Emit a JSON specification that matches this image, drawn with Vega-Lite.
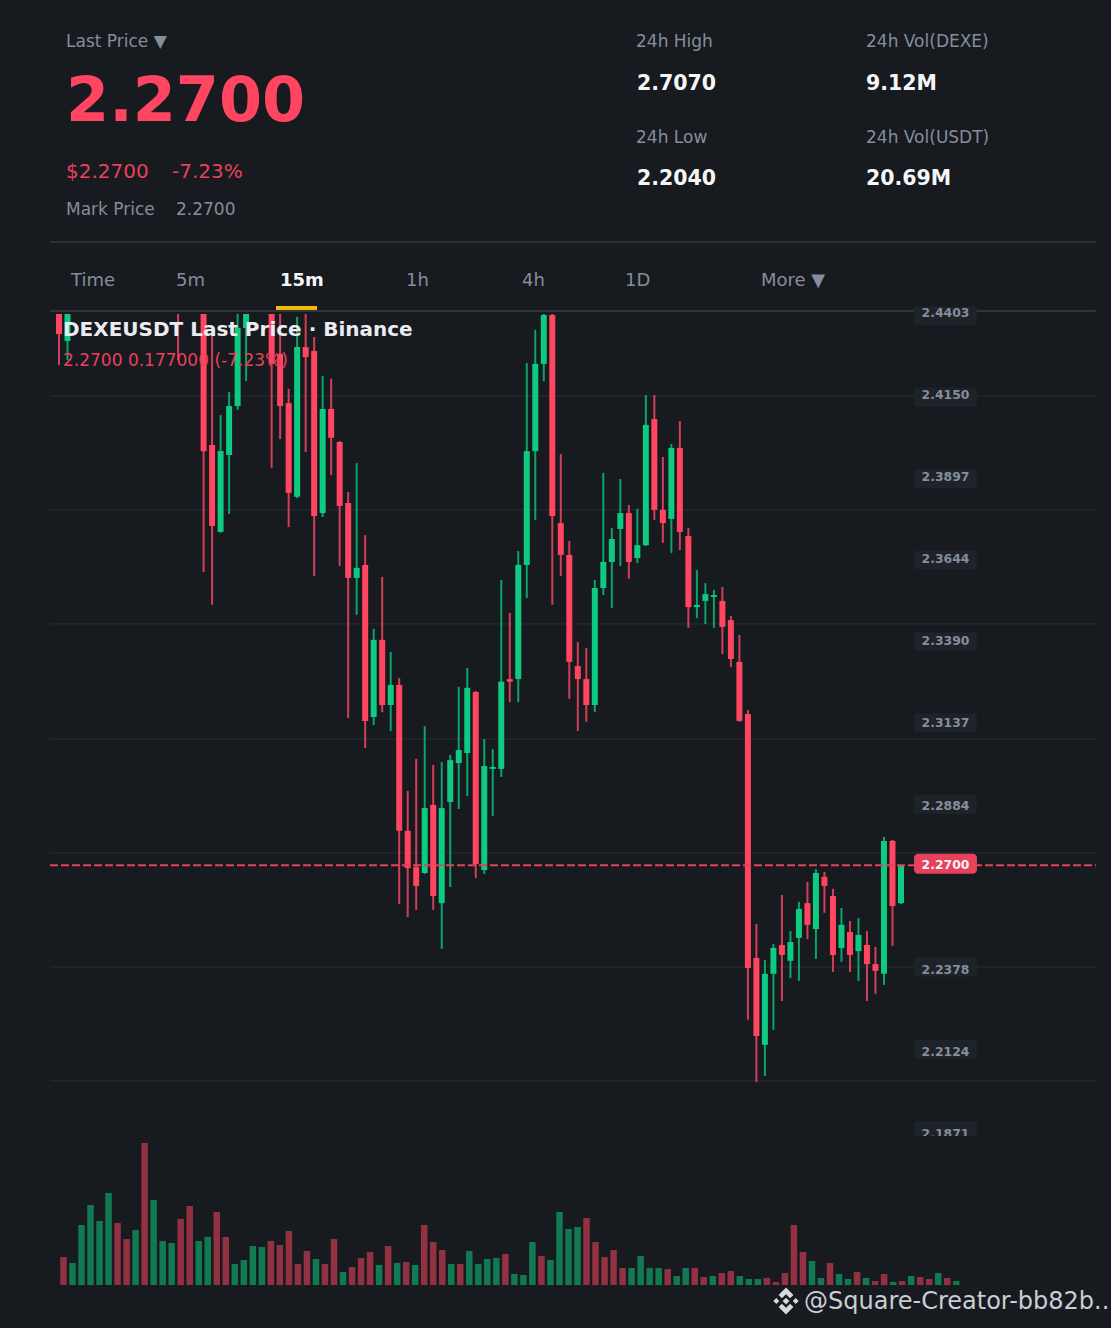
{
"$schema":"https://vega.github.io/schema/vega-lite/v6.json",
"autosize":"none","padding":0,"width":1111,"height":1328,"background":"#171a1f",
"config":{"view":{"stroke":null},"text":{"font":"DejaVu Sans"},"axis":{"labelFont":"DejaVu Sans"}},
"data":{"values":[{"part":"chrome"}]},
"datasets":{
"k":[
{"t":"2025-08-29T00:30","o":2.44,"h":2.44,"l":2.4243,"c":2.4338,"v":84000,"s":"d"},
{"t":"2025-08-29T00:45","o":2.4317,"h":2.44,"l":2.4258,"c":2.44,"v":66000,"s":"u"},
{"t":"2025-08-29T01:00","v":180000,"s":"u"},
{"t":"2025-08-29T01:15","v":240000,"s":"u"},
{"t":"2025-08-29T01:30","v":192000,"s":"u"},
{"t":"2025-08-29T01:45","v":276000,"s":"u"},
{"t":"2025-08-29T02:00","v":186000,"s":"d"},
{"t":"2025-08-29T02:15","v":138000,"s":"d"},
{"t":"2025-08-29T02:30","v":165000,"s":"u"},
{"t":"2025-08-29T02:45","v":426000,"s":"d"},
{"t":"2025-08-29T03:00","v":255000,"s":"u"},
{"t":"2025-08-29T03:15","v":132000,"s":"u"},
{"t":"2025-08-29T03:30","v":126000,"s":"u"},
{"t":"2025-08-29T03:45","v":198000,"s":"d"},
{"t":"2025-08-29T04:00","h":2.44,"l":2.4258,"v":237000,"s":"d"},
{"t":"2025-08-29T04:15","v":132000,"s":"u"},
{"t":"2025-08-29T04:30","v":144000,"s":"u"},
{"t":"2025-08-29T04:45","o":2.44,"h":2.44,"l":2.3604,"c":2.3977,"v":219000,"s":"d"},
{"t":"2025-08-29T05:00","o":2.3996,"h":2.4335,"l":2.3503,"c":2.3746,"v":144000,"s":"d"},
{"t":"2025-08-29T05:15","o":2.3728,"h":2.4088,"l":2.3725,"c":2.3977,"v":63000,"s":"u"},
{"t":"2025-08-29T05:30","o":2.3965,"h":2.4159,"l":2.3783,"c":2.4116,"v":75000,"s":"u"},
{"t":"2025-08-29T05:45","o":2.4116,"h":2.44,"l":2.4104,"c":2.4357,"v":117000,"s":"u"},
{"t":"2025-08-29T06:00","o":2.4357,"h":2.44,"l":2.4193,"c":2.44,"v":114000,"s":"u"},
{"t":"2025-08-29T06:15","v":132000,"s":"d"},
{"t":"2025-08-29T06:30","v":120000,"s":"d"},
{"t":"2025-08-29T06:45","o":2.44,"h":2.44,"l":2.3925,"c":2.4246,"v":162000,"s":"d"},
{"t":"2025-08-29T07:00","o":2.4277,"h":2.44,"l":2.4014,"c":2.4116,"v":63000,"s":"d"},
{"t":"2025-08-29T07:15","o":2.4125,"h":2.4169,"l":2.3743,"c":2.3848,"v":102000,"s":"d"},
{"t":"2025-08-29T07:30","o":2.3836,"h":2.4391,"l":2.3832,"c":2.4298,"v":78000,"s":"u"},
{"t":"2025-08-29T07:45","o":2.4298,"h":2.44,"l":2.3974,"c":2.4267,"v":63000,"s":"d"},
{"t":"2025-08-29T08:00","o":2.4286,"h":2.4329,"l":2.3592,"c":2.3777,"v":138000,"s":"d"},
{"t":"2025-08-29T08:15","o":2.3786,"h":2.4209,"l":2.3774,"c":2.4107,"v":39000,"s":"u"},
{"t":"2025-08-29T08:30","o":2.4107,"h":2.42,"l":2.3903,"c":2.4018,"v":54000,"s":"d"},
{"t":"2025-08-29T08:45","o":2.4005,"h":2.4008,"l":2.3623,"c":2.3808,"v":81000,"s":"d"},
{"t":"2025-08-29T09:00","o":2.3817,"h":2.3851,"l":2.3154,"c":2.3586,"v":99000,"s":"d"},
{"t":"2025-08-29T09:15","o":2.3586,"h":2.394,"l":2.3472,"c":2.3617,"v":60000,"s":"u"},
{"t":"2025-08-29T09:30","o":2.3626,"h":2.3718,"l":2.3061,"c":2.3145,"v":117000,"s":"d"},
{"t":"2025-08-29T09:45","o":2.3157,"h":2.3429,"l":2.3132,"c":2.3395,"v":66000,"s":"u"},
{"t":"2025-08-29T10:00","o":2.3395,"h":2.3589,"l":2.3172,"c":2.3194,"v":69000,"s":"d"},
{"t":"2025-08-29T10:15","o":2.3194,"h":2.3358,"l":2.3114,"c":2.3256,"v":60000,"s":"u"},
{"t":"2025-08-29T10:30","o":2.3256,"h":2.3277,"l":2.258,"c":2.2806,"v":180000,"s":"d"},
{"t":"2025-08-29T10:45","o":2.2806,"h":2.2929,"l":2.254,"c":2.2691,"v":129000,"s":"d"},
{"t":"2025-08-29T11:00","o":2.2694,"h":2.3028,"l":2.2562,"c":2.2636,"v":105000,"s":"d"},
{"t":"2025-08-29T11:15","o":2.2676,"h":2.3129,"l":2.2673,"c":2.2876,"v":63000,"s":"u"},
{"t":"2025-08-29T11:30","o":2.2886,"h":2.3009,"l":2.2562,"c":2.2605,"v":63000,"s":"d"},
{"t":"2025-08-29T11:45","o":2.2583,"h":2.3018,"l":2.2442,"c":2.2876,"v":102000,"s":"u"},
{"t":"2025-08-29T12:00","o":2.2895,"h":2.304,"l":2.2633,"c":2.3024,"v":63000,"s":"u"},
{"t":"2025-08-29T12:15","o":2.3015,"h":2.325,"l":2.2873,"c":2.3055,"v":78000,"s":"u"},
{"t":"2025-08-29T12:30","o":2.3046,"h":2.3308,"l":2.2913,"c":2.3247,"v":81000,"s":"u"},
{"t":"2025-08-29T12:45","o":2.3234,"h":2.3237,"l":2.266,"c":2.2704,"v":93000,"s":"d"},
{"t":"2025-08-29T13:00","o":2.2685,"h":2.3089,"l":2.2673,"c":2.3006,"v":33000,"s":"u"},
{"t":"2025-08-29T13:15","o":2.2997,"h":2.3058,"l":2.2852,"c":2.3003,"v":30000,"s":"u"},
{"t":"2025-08-29T13:30","o":2.2997,"h":2.358,"l":2.2972,"c":2.3266,"v":129000,"s":"u"},
{"t":"2025-08-29T13:45","o":2.3274,"h":2.3478,"l":2.3203,"c":2.3266,"v":87000,"s":"d"},
{"t":"2025-08-29T14:00","o":2.3274,"h":2.3669,"l":2.3203,"c":2.3626,"v":75000,"s":"u"},
{"t":"2025-08-29T14:15","o":2.3626,"h":2.4249,"l":2.3524,"c":2.3977,"v":219000,"s":"u"},
{"t":"2025-08-29T14:30","o":2.3977,"h":2.4351,"l":2.3765,"c":2.4246,"v":168000,"s":"u"},
{"t":"2025-08-29T14:45","o":2.4246,"h":2.44,"l":2.4193,"c":2.4397,"v":174000,"s":"u"},
{"t":"2025-08-29T15:00","o":2.4397,"h":2.44,"l":2.3503,"c":2.3777,"v":201000,"s":"d"},
{"t":"2025-08-29T15:15","o":2.3755,"h":2.3968,"l":2.3592,"c":2.3657,"v":129000,"s":"d"},
{"t":"2025-08-29T15:30","o":2.3657,"h":2.37,"l":2.3213,"c":2.3327,"v":84000,"s":"d"},
{"t":"2025-08-29T15:45","o":2.3314,"h":2.3388,"l":2.3114,"c":2.3274,"v":105000,"s":"d"},
{"t":"2025-08-29T16:00","o":2.3274,"h":2.337,"l":2.3142,"c":2.3194,"v":51000,"s":"d"},
{"t":"2025-08-29T16:15","o":2.3194,"h":2.358,"l":2.3172,"c":2.3555,"v":51000,"s":"u"},
{"t":"2025-08-29T16:30","o":2.3555,"h":2.391,"l":2.3533,"c":2.3635,"v":87000,"s":"u"},
{"t":"2025-08-29T16:45","o":2.3635,"h":2.374,"l":2.3493,"c":2.3706,"v":51000,"s":"u"},
{"t":"2025-08-29T17:00","o":2.3737,"h":2.3891,"l":2.3623,"c":2.3786,"v":51000,"s":"u"},
{"t":"2025-08-29T17:15","o":2.3786,"h":2.3811,"l":2.3583,"c":2.3635,"v":48000,"s":"d"},
{"t":"2025-08-29T17:30","o":2.3647,"h":2.3799,"l":2.3632,"c":2.3687,"v":27000,"s":"u"},
{"t":"2025-08-29T17:45","o":2.3687,"h":2.415,"l":2.3684,"c":2.4058,"v":51000,"s":"u"},
{"t":"2025-08-29T18:00","o":2.4076,"h":2.415,"l":2.3765,"c":2.3796,"v":51000,"s":"d"},
{"t":"2025-08-29T18:15","o":2.3796,"h":2.3959,"l":2.3694,"c":2.3755,"v":24000,"s":"d"},
{"t":"2025-08-29T18:30","o":2.3768,"h":2.3999,"l":2.3663,"c":2.3987,"v":27000,"s":"u"},
{"t":"2025-08-29T18:45","o":2.3987,"h":2.407,"l":2.3672,"c":2.3728,"v":36000,"s":"d"},
{"t":"2025-08-29T19:00","o":2.3715,"h":2.374,"l":2.3432,"c":2.3496,"v":42000,"s":"d"},
{"t":"2025-08-29T19:15","o":2.3496,"h":2.361,"l":2.3462,"c":2.3503,"v":27000,"s":"u"},
{"t":"2025-08-29T19:30","o":2.3515,"h":2.357,"l":2.3444,"c":2.3536,"v":18000,"s":"u"},
{"t":"2025-08-29T19:45","o":2.3527,"h":2.3549,"l":2.3432,"c":2.3533,"v":18000,"s":"u"},
{"t":"2025-08-29T20:00","o":2.3515,"h":2.3558,"l":2.3351,"c":2.3435,"v":21000,"s":"d"},
{"t":"2025-08-29T20:15","o":2.3456,"h":2.3469,"l":2.3311,"c":2.3336,"v":9000,"s":"d"},
{"t":"2025-08-29T20:30","o":2.3327,"h":2.341,"l":2.3142,"c":2.3145,"v":36000,"s":"d"},
{"t":"2025-08-29T20:45","o":2.3166,"h":2.3179,"l":2.2223,"c":2.2383,"v":180000,"s":"d"},
{"t":"2025-08-29T21:00","o":2.2414,"h":2.2519,"l":2.2031,"c":2.2173,"v":99000,"s":"d"},
{"t":"2025-08-29T21:15","o":2.2146,"h":2.2408,"l":2.205,"c":2.2365,"v":72000,"s":"u"},
{"t":"2025-08-29T21:30","o":2.2365,"h":2.2457,"l":2.2192,"c":2.2445,"v":21000,"s":"u"},
{"t":"2025-08-29T21:45","o":2.2454,"h":2.2608,"l":2.2281,"c":2.2423,"v":66000,"s":"d"},
{"t":"2025-08-29T22:00","o":2.2405,"h":2.2497,"l":2.2352,"c":2.2463,"v":33000,"s":"u"},
{"t":"2025-08-29T22:15","o":2.2476,"h":2.2587,"l":2.2343,"c":2.2565,"v":18000,"s":"u"},
{"t":"2025-08-29T22:30","o":2.2583,"h":2.2648,"l":2.2472,"c":2.2516,"v":39000,"s":"d"},
{"t":"2025-08-29T22:45","o":2.2503,"h":2.2688,"l":2.2411,"c":2.2676,"v":21000,"s":"u"},
{"t":"2025-08-29T23:00","o":2.2664,"h":2.2679,"l":2.2553,"c":2.2636,"v":12000,"s":"d"},
{"t":"2025-08-29T23:15","o":2.2605,"h":2.2627,"l":2.2371,"c":2.2423,"v":33000,"s":"d"},
{"t":"2025-08-29T23:30","o":2.2445,"h":2.2568,"l":2.2402,"c":2.2516,"v":9000,"s":"u"},
{"t":"2025-08-29T23:45","o":2.2494,"h":2.2528,"l":2.2371,"c":2.2423,"v":12000,"s":"d"},
{"t":"2025-08-30T00:00","o":2.2435,"h":2.2537,"l":2.2343,"c":2.2485,"v":27000,"s":"u"},
{"t":"2025-08-30T00:15","o":2.2454,"h":2.2497,"l":2.2281,"c":2.2395,"v":24000,"s":"d"},
{"t":"2025-08-30T00:30","o":2.2395,"h":2.2448,"l":2.2303,"c":2.2374,"v":18000,"s":"d"},
{"t":"2025-08-30T00:45","o":2.2365,"h":2.2787,"l":2.2331,"c":2.2775,"v":36000,"s":"u"},
{"t":"2025-08-30T01:00","o":2.2775,"h":2.2778,"l":2.2451,"c":2.2574,"v":21000,"s":"d"},
{"t":"2025-08-30T01:15","o":2.2583,"h":2.27,"l":2.258,"c":2.27,"v":12000,"s":"u"}
],
"grid":[{"p":2.4147},{"p":2.3796},{"p":2.3444},{"p":2.3089},{"p":2.2738},{"p":2.2386},{"p":2.2035}],
"ticks":[{"p":2.4403,"txt":"2.4403"},{"p":2.415,"txt":"2.4150"},{"p":2.3897,"txt":"2.3897"},{"p":2.3644,"txt":"2.3644"},{"p":2.339,"txt":"2.3390"},{"p":2.3137,"txt":"2.3137"},{"p":2.2884,"txt":"2.2884"},{"p":2.2378,"txt":"2.2378"},{"p":2.2124,"txt":"2.2124"},{"p":2.1871,"txt":"2.1871"}]
},
"layer":[
{"data":{"name":"grid"},"mark":{"type":"rule","color":"#2a2f36","strokeWidth":1},
 "encoding":{"y":{"field":"p","type":"quantitative","axis":null,"scale":{"domain":[2.12727,2.53683],"range":[1328,0]}},
 "x":{"datum":{"year":2025,"month":8,"date":29,"hours":0,"minutes":14,"seconds":8},"type":"temporal","axis":null,"scale":{"domain":["2025-08-28T22:45:56","2025-08-30T07:25:24"],"range":[0,1111]}},
 "x2":{"datum":{"year":2025,"month":8,"date":30,"hours":6,"minutes":58,"seconds":54}}}},
{"data":{"values":[{"p":2.4409}]},"mark":{"type":"rule","color":"#2e343c","strokeWidth":2},
 "encoding":{"y":{"field":"p","type":"quantitative","axis":null,"scale":{"domain":[2.12727,2.53683],"range":[1328,0]}},
 "x":{"datum":{"year":2025,"month":8,"date":29,"hours":0,"minutes":14,"seconds":8},"type":"temporal","axis":null,"scale":{"domain":["2025-08-28T22:45:56","2025-08-30T07:25:24"],"range":[0,1111]}},
 "x2":{"datum":{"year":2025,"month":8,"date":30,"hours":6,"minutes":58,"seconds":54}}}},
{"data":{"name":"k"},"mark":{"type":"rule","strokeWidth":2},
 "encoding":{"x":{"field":"t","type":"temporal","axis":null,"scale":{"domain":["2025-08-28T22:45:56","2025-08-30T07:25:24"],"range":[0,1111]}},
 "y":{"field":"h","type":"quantitative","axis":null,"scale":{"domain":[2.12727,2.53683],"range":[1328,0]}},"y2":{"field":"l"},
 "color":{"field":"s","type":"nominal","legend":null,"scale":{"domain":["u","d"],"range":["#0ca469","#d33f58"]}}}},
{"data":{"name":"k"},"mark":{"type":"rule","strokeWidth":6},
 "encoding":{"x":{"field":"t","type":"temporal","axis":null,"scale":{"domain":["2025-08-28T22:45:56","2025-08-30T07:25:24"],"range":[0,1111]}},
 "y":{"field":"o","type":"quantitative","axis":null,"scale":{"domain":[2.12727,2.53683],"range":[1328,0]}},"y2":{"field":"c"},
 "color":{"field":"s","type":"nominal","legend":null,"scale":{"domain":["u","d"],"range":["#0ecb81","#ff4560"]}}}},
{"data":{"name":"ticks"},"mark":{"type":"bar","orient":"horizontal","size":19,"color":"#1e2329","cornerRadius":3},
 "encoding":{"y":{"field":"p","type":"quantitative","axis":null,"scale":{"domain":[2.12727,2.53683],"range":[1328,0]}},
 "x":{"datum":{"year":2025,"month":8,"date":30,"hours":1,"minutes":38},"type":"temporal","axis":null,"scale":{"domain":["2025-08-28T22:45:56","2025-08-30T07:25:24"],"range":[0,1111]}},
 "x2":{"datum":{"year":2025,"month":8,"date":30,"hours":3,"minutes":29}}}},
{"data":{"name":"ticks"},"mark":{"type":"text","font":"DejaVu Sans","fontWeight":"bold","fontSize":12.4,"color":"#848e9c","align":"center","baseline":"middle"},
 "encoding":{"y":{"field":"p","type":"quantitative","axis":null,"scale":{"domain":[2.12727,2.53683],"range":[1328,0]}},
 "x":{"datum":{"year":2025,"month":8,"date":30,"hours":2,"minutes":33,"seconds":30},"type":"temporal","axis":null,"scale":{"domain":["2025-08-28T22:45:56","2025-08-30T07:25:24"],"range":[0,1111]}},
 "text":{"field":"txt"}}},
{"data":{"values":[{"p":2.27}]},"mark":{"type":"rule","color":"#e0435c","strokeWidth":2,"strokeDash":[8,3]},
 "encoding":{"y":{"field":"p","type":"quantitative","axis":null,"scale":{"domain":[2.12727,2.53683],"range":[1328,0]}},
 "x":{"datum":{"year":2025,"month":8,"date":29,"hours":0,"minutes":14,"seconds":8},"type":"temporal","axis":null,"scale":{"domain":["2025-08-28T22:45:56","2025-08-30T07:25:24"],"range":[0,1111]}},
 "x2":{"datum":{"year":2025,"month":8,"date":30,"hours":6,"minutes":58,"seconds":54}}}},
{"data":{"values":[{"p":2.27}]},"mark":{"type":"bar","orient":"horizontal","size":20,"color":"#e8415c","cornerRadius":4},
 "encoding":{"y":{"field":"p","type":"quantitative","axis":null,"scale":{"domain":[2.12727,2.53683],"range":[1328,0]}},
 "x":{"datum":{"year":2025,"month":8,"date":30,"hours":1,"minutes":38},"type":"temporal","axis":null,"scale":{"domain":["2025-08-28T22:45:56","2025-08-30T07:25:24"],"range":[0,1111]}},
 "x2":{"datum":{"year":2025,"month":8,"date":30,"hours":3,"minutes":29}}}},
{"data":{"values":[{"p":2.27,"txt":"2.2700"}]},"mark":{"type":"text","font":"DejaVu Sans","fontWeight":"bold","fontSize":12.4,"color":"#f5f6f7","align":"center","baseline":"middle"},
 "encoding":{"y":{"field":"p","type":"quantitative","axis":null,"scale":{"domain":[2.12727,2.53683],"range":[1328,0]}},
 "x":{"datum":{"year":2025,"month":8,"date":30,"hours":2,"minutes":33,"seconds":30},"type":"temporal","axis":null,"scale":{"domain":["2025-08-28T22:45:56","2025-08-30T07:25:24"],"range":[0,1111]}},
 "text":{"field":"txt"}}},
{"mark":{"type":"rect","color":"#171a1f","x":0,"x2":1111,"y":1136,"y2":1328}},
{"data":{"name":"k"},"mark":{"type":"bar","size":6.5},
 "encoding":{"x":{"field":"t","type":"temporal","scale":{"domain":["2025-08-28T22:52:45","2025-08-30T05:24:04"],"range":[0,1111]},
  "axis":{"values":[{"year":2025,"month":8,"date":29,"hours":0,"minutes":30},{"year":2025,"month":8,"date":29,"hours":5,"minutes":30},{"year":2025,"month":8,"date":29,"hours":10,"minutes":30},{"year":2025,"month":8,"date":29,"hours":15,"minutes":30},{"year":2025,"month":8,"date":29,"hours":20,"minutes":30}],"format":"%b %d, %H:%M","title":null,"grid":false,"domain":false,"offset":-43,"tickSize":7,"tickWidth":2,"tickColor":"#5e6673","labelColor":"#6f7783","labelFontSize":12,"labelPadding":6,"labelFlush":false,"labelOverlap":false,"orient":"bottom"}},
 "y":{"field":"v","type":"quantitative","stack":null,"axis":null,"scale":{"domain":[-129000,3855000],"range":[1328,0]}},
 "color":{"field":"s","type":"nominal","legend":null,"scale":{"domain":["u","d"],"range":["#117a53","#913142"]}}}},
{"mark":{"type":"text","text":"DEXEUSDT Last Price · Binance","x":63,"y":330,"fontSize":20,"fontWeight":"bold","color":"#eaecef","align":"left","baseline":"middle"}},
{"mark":{"type":"text","text":"2.2700  0.177000 (-7.23%)","x":63,"y":361,"fontSize":17,"color":"#e8415c","align":"left","baseline":"middle"}},
{"mark":{"type":"text","text":"Last Price  ▼","x":66,"y":42,"fontSize":17,"color":"#848e9c","align":"left","baseline":"middle"}},
{"mark":{"type":"text","text":"2.2700","x":66,"y":102,"fontSize":62,"fontWeight":"bold","color":"#ff4560","align":"left","baseline":"middle"}},
{"mark":{"type":"text","text":"$2.2700","x":66,"y":172,"fontSize":20,"color":"#e8415c","align":"left","baseline":"middle"}},
{"mark":{"type":"text","text":"-7.23%","x":172,"y":172,"fontSize":20,"color":"#e8415c","align":"left","baseline":"middle"}},
{"mark":{"type":"text","text":"Mark Price","x":66,"y":210,"fontSize":17,"color":"#848e9c","align":"left","baseline":"middle"}},
{"mark":{"type":"text","text":"2.2700","x":176,"y":210,"fontSize":17,"color":"#848e9c","align":"left","baseline":"middle"}},
{"mark":{"type":"text","text":"24h High","x":636,"y":42,"fontSize":17,"color":"#848e9c","align":"left","baseline":"middle"}},
{"mark":{"type":"text","text":"2.7070","x":637,"y":84,"fontSize":20.5,"fontWeight":"bold","color":"#f5f6f7","align":"left","baseline":"middle"}},
{"mark":{"type":"text","text":"24h Low","x":636,"y":138,"fontSize":17,"color":"#848e9c","align":"left","baseline":"middle"}},
{"mark":{"type":"text","text":"2.2040","x":637,"y":179,"fontSize":20.5,"fontWeight":"bold","color":"#f5f6f7","align":"left","baseline":"middle"}},
{"mark":{"type":"text","text":"24h Vol(DEXE)","x":866,"y":42,"fontSize":17,"color":"#848e9c","align":"left","baseline":"middle"}},
{"mark":{"type":"text","text":"9.12M","x":866,"y":84,"fontSize":20.5,"fontWeight":"bold","color":"#f5f6f7","align":"left","baseline":"middle"}},
{"mark":{"type":"text","text":"24h Vol(USDT)","x":866,"y":138,"fontSize":17,"color":"#848e9c","align":"left","baseline":"middle"}},
{"mark":{"type":"text","text":"20.69M","x":866,"y":179,"fontSize":20.5,"fontWeight":"bold","color":"#f5f6f7","align":"left","baseline":"middle"}},
{"mark":{"type":"rect","color":"#2b3139","x":50,"x2":1096,"y":241,"y2":243}},
{"mark":{"type":"text","text":"Time","x":71,"y":281,"fontSize":18,"color":"#848e9c","align":"left","baseline":"middle"}},
{"mark":{"type":"text","text":"5m","x":176,"y":281,"fontSize":18,"color":"#848e9c","align":"left","baseline":"middle"}},
{"mark":{"type":"text","text":"15m","x":280,"y":281,"fontSize":18,"fontWeight":"bold","color":"#f5f6f7","align":"left","baseline":"middle"}},
{"mark":{"type":"text","text":"1h","x":406,"y":281,"fontSize":18,"color":"#848e9c","align":"left","baseline":"middle"}},
{"mark":{"type":"text","text":"4h","x":522,"y":281,"fontSize":18,"color":"#848e9c","align":"left","baseline":"middle"}},
{"mark":{"type":"text","text":"1D","x":625,"y":281,"fontSize":18,"color":"#848e9c","align":"left","baseline":"middle"}},
{"mark":{"type":"text","text":"More ▼","x":761,"y":281,"fontSize":18,"color":"#848e9c","align":"left","baseline":"middle"}},
{"mark":{"type":"rect","color":"#f0b90b","x":276,"x2":317,"y":306,"y2":310}},
{"mark":{"type":"point","filled":true,"color":"#d5d9de","opacity":1,"size":729,"x":786,"y":1301,"shape":"M0,-0.25L0.25,0L0,0.25L-0.25,0ZM-0.72,-0.22L-0.5,0L-0.72,0.22L-0.94,0ZM0.72,-0.22L0.94,0L0.72,0.22L0.5,0ZM0,-1L0.55,-0.45L0.3,-0.2L0,-0.5L-0.3,-0.2L-0.55,-0.45ZM0,1L-0.55,0.45L-0.3,0.2L0,0.5L0.3,0.2L0.55,0.45Z"}},
{"mark":{"type":"text","text":"@Square-Creator-bb82b...","x":804,"y":1302,"fontSize":24,"color":"#c9ced4","align":"left","baseline":"middle"}}
],
"resolve":{"scale":{"x":"independent","y":"independent","color":"independent"},"axis":{"x":"independent","y":"independent"}}
}
